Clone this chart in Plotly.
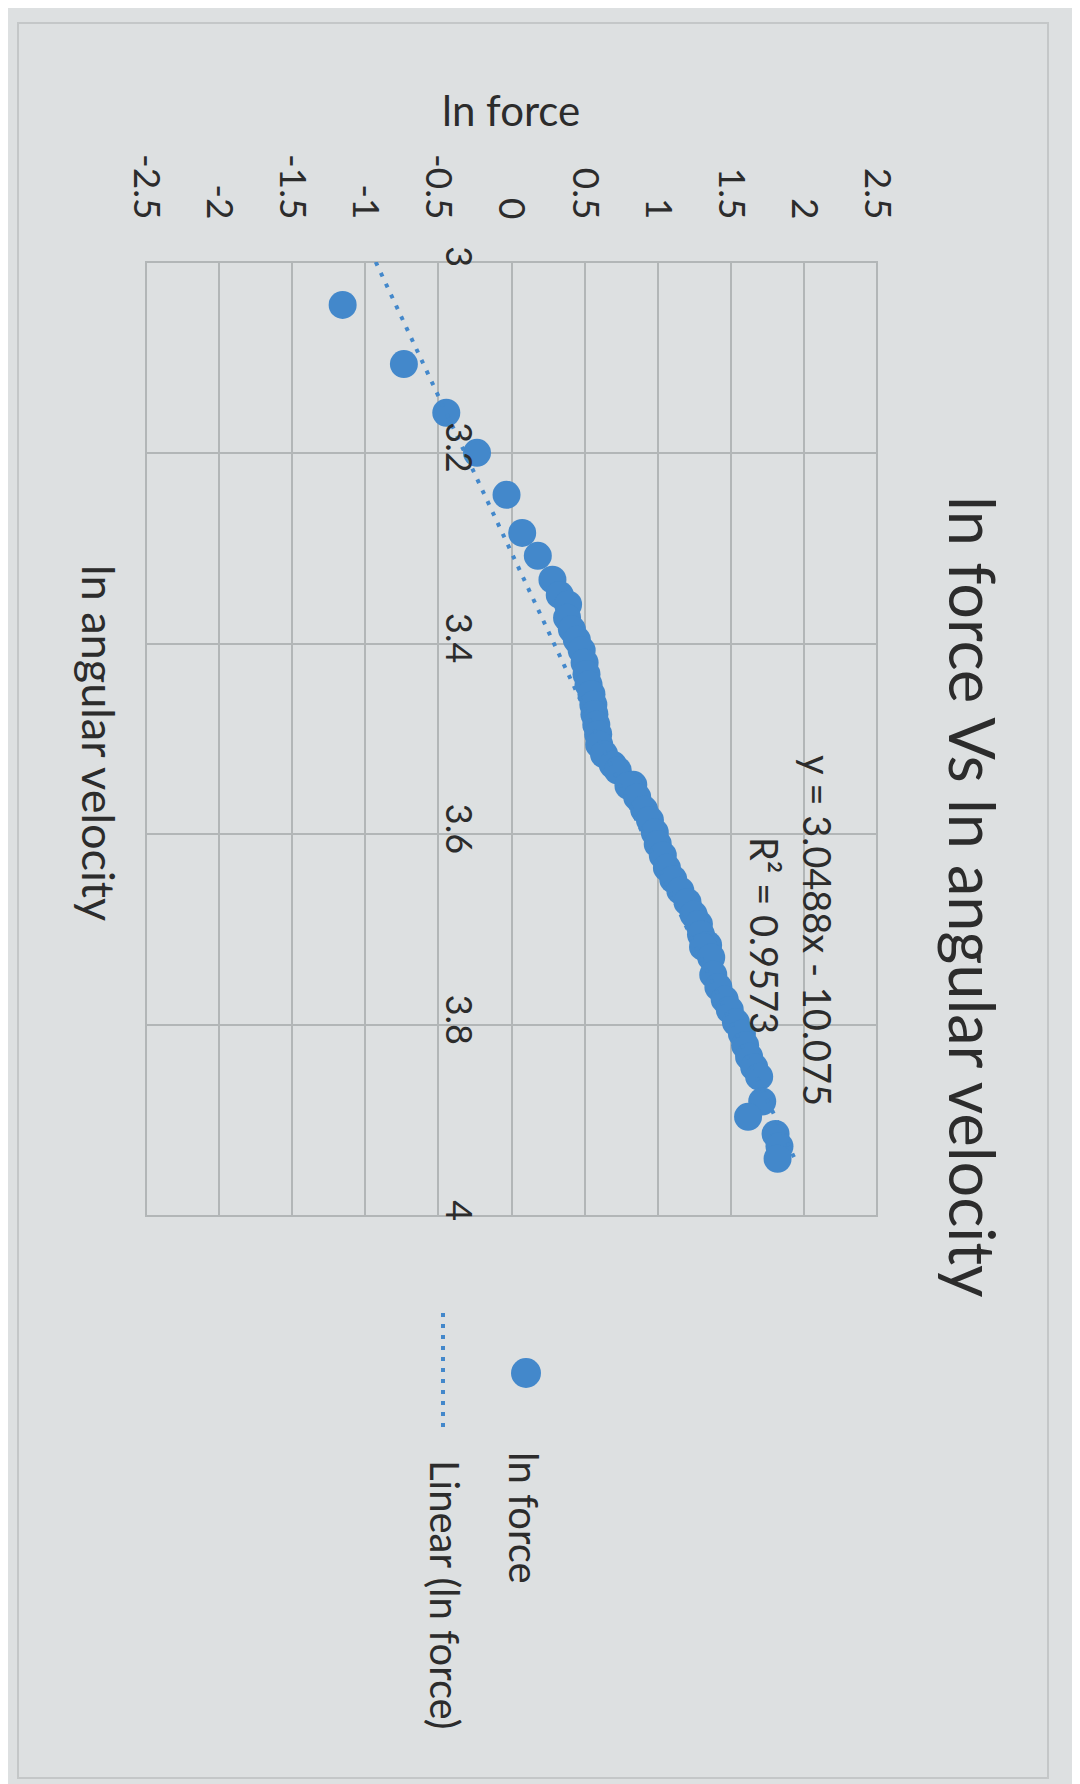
import plotly.graph_objects as go

# ---------------- data ----------------
ln_angular_velocity = [
    3.045, 3.107, 3.158, 3.200, 3.244, 3.284, 3.308, 3.333, 3.349, 3.359,
    3.373, 3.385, 3.396, 3.407, 3.420, 3.432, 3.443, 3.453, 3.464, 3.474,
    3.485, 3.495, 3.506, 3.516, 3.527, 3.533, 3.548, 3.549, 3.561, 3.574,
    3.585, 3.598, 3.610, 3.622, 3.635, 3.647, 3.659, 3.671, 3.684, 3.694,
    3.705, 3.716, 3.718, 3.729, 3.747, 3.760, 3.773, 3.784, 3.797, 3.809,
    3.821, 3.833, 3.844, 3.854, 3.880, 3.896, 3.914, 3.927, 3.940,
]
ln_force = [
    -1.155, -0.736, -0.446, -0.236, -0.034, 0.073, 0.180, 0.280, 0.330, 0.387,
    0.380, 0.413, 0.447, 0.480, 0.500, 0.513, 0.527, 0.547, 0.560, 0.567,
    0.580, 0.593, 0.600, 0.633, 0.693, 0.727, 0.833, 0.800, 0.860, 0.907,
    0.947, 0.980, 1.000, 1.035, 1.063, 1.106, 1.155, 1.204, 1.246, 1.282,
    1.296, 1.345, 1.310, 1.366, 1.380, 1.415, 1.458, 1.493, 1.535, 1.576,
    1.598, 1.625, 1.660, 1.694, 1.715, 1.618, 1.806, 1.833, 1.820,
]

trend_slope = 3.0488
trend_intercept = -10.075
trend_r2 = 0.9573
trend_start = 3.0

force_ticks = [-2.5, -2, -1.5, -1, -0.5, 0, 0.5, 1, 1.5, 2, 2.5]
force_tick_labels = ["-2.5", "-2", "-1.5", "-1", "-0.5", "0", "0.5", "1", "1.5", "2", "2.5"]
omega_ticks = [3, 3.2, 3.4, 3.6, 3.8, 4]
omega_tick_labels = ["3", "3.2", "3.4", "3.6", "3.8", "4"]

title_text = "ln force Vs ln angular velocity"
force_title = "ln force"
omega_title = "ln angular velocity"
series_name = "ln force"
trend_name = "Linear (ln force)"

# ---------------- style ----------------
W, H = 1080, 1784
L, R, T, B = 138, 869, 254, 1208          # plot-area pixel box
BG = "#dde0e1"
GRID = "#b2b6b7"
TXT = "#2c2c2c"
BLUE = "#4388cb"
FONT = "Lato"


def px(x):
    return (x - L) / (R - L)


def py(y):
    return (B - y) / (B - T)


trend_x = [trend_start, max(ln_angular_velocity)]
trend_y = [trend_slope * v + trend_intercept for v in trend_x]

fig = go.Figure()
fig.add_trace(go.Scatter(
    x=ln_force, y=ln_angular_velocity, mode="markers", name=series_name,
    marker=dict(size=28, color=BLUE, line=dict(width=0)),
))
fig.add_trace(go.Scatter(
    x=trend_y, y=trend_x, mode="lines", name=trend_name,
    line=dict(color=BLUE, width=4, dash="4px,8px"),
))

fig.update_layout(
    width=W, height=H, autosize=False,
    margin=dict(l=L, r=W - R, t=T, b=H - B, pad=0),
    paper_bgcolor=BG, plot_bgcolor=BG, showlegend=False,
    font=dict(family=FONT, color=TXT),
)
fig.update_xaxes(
    range=[-2.5, 2.5], tickvals=force_ticks, ticktext=force_tick_labels,
    side="top", tickangle=90, showgrid=True, gridcolor=GRID, gridwidth=2,
    zeroline=False, showline=False, ticks="", ticklabelstandoff=36,
    tickfont=dict(size=37, color=TXT, family=FONT),
)
fig.update_yaxes(
    range=[4, 3], tickvals=omega_ticks, ticktext=omega_tick_labels,
    anchor="free", position=0.5, side="left", tickangle=90,
    showgrid=True, gridcolor=GRID, gridwidth=2, zeroline=False, showline=False,
    ticks="", ticklabelstandoff=29,
    tickfont=dict(size=36, color=TXT, family=FONT),
)

shapes = [
    # plot-area border
    dict(type="rect", xref="paper", yref="paper", x0=0, x1=1, y0=0, y1=1,
         line=dict(color=GRID, width=2), fillcolor="rgba(0,0,0,0)", layer="below"),
    # chart-area border
    dict(type="rect", xref="paper", yref="paper", x0=px(10), x1=px(1040), y0=py(1770), y1=py(15),
         line=dict(color="#c4c7c8", width=2), fillcolor="rgba(0,0,0,0)", layer="below"),
    # legend: marker
    dict(type="circle", xref="paper", yref="paper", x0=px(503), x1=px(533), y0=py(1380), y1=py(1350),
         line=dict(width=0), fillcolor=BLUE),
    # legend: dotted line
    dict(type="line", xref="paper", yref="paper", x0=px(435), x1=px(435), y0=py(1305), y1=py(1422),
         line=dict(color=BLUE, width=4, dash="4px,7px")),
]

annotations = [
    dict(text=title_text, x=px(966), y=py(889), textangle=90, font=dict(size=63, color=TXT, family=FONT)),
    dict(text=force_title, x=px(503), y=py(102), textangle=0, font=dict(size=42, color=TXT, family=FONT)),
    dict(text=omega_title, x=px(91), y=py(735), textangle=90, font=dict(size=45, color=TXT, family=FONT)),
    dict(text=f"y = {trend_slope}x - {abs(trend_intercept)}", x=px(810), y=py(922), textangle=90,
         font=dict(size=38, color=TXT, family=FONT)),
    dict(text=f"R² = {trend_r2}", x=px(757), y=py(927), textangle=90,
         font=dict(size=38, color=TXT, family=FONT)),
    dict(text=series_name, x=px(516), y=py(1510), textangle=90, font=dict(size=40, color=TXT, family=FONT)),
    dict(text=trend_name, x=px(437), y=py(1587), textangle=90, font=dict(size=40, color=TXT, family=FONT)),
]
for a in annotations:
    a.update(xref="paper", yref="paper", showarrow=False, xanchor="center", yanchor="middle")

fig.update_layout(shapes=shapes, annotations=annotations)
fig.write_html("out.html")
